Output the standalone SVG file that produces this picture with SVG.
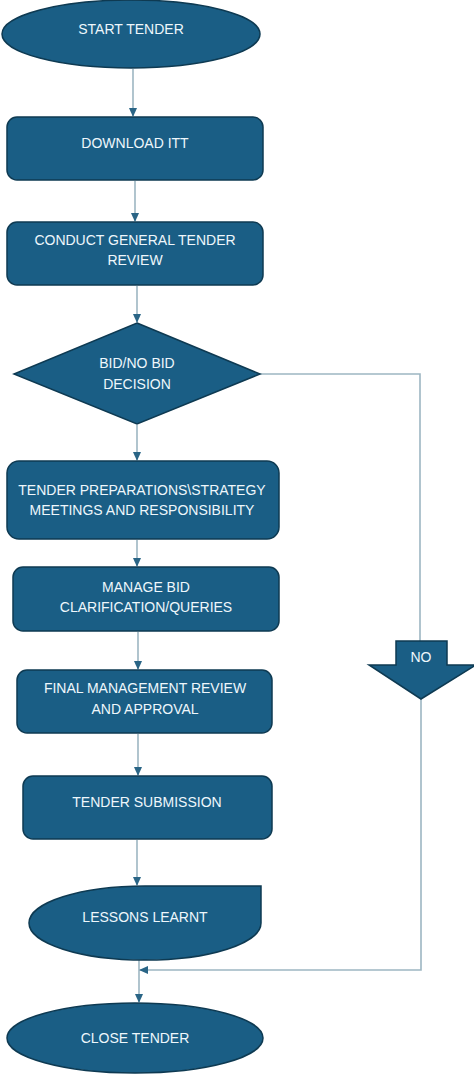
<svg xmlns="http://www.w3.org/2000/svg" width="474" height="1074" viewBox="0 0 474 1074">
<defs>
<style>
.n{fill:#1a5e85;stroke:#0e3a52;stroke-width:1.5}
.t{font-family:"Liberation Sans",Arial,sans-serif;font-size:14px;fill:#eef7fc;text-anchor:middle}
.c{fill:none;stroke:#9db6c2;stroke-width:1.6}
</style>
<marker id="ah" markerWidth="10" markerHeight="10" refX="8" refY="4" orient="auto" markerUnits="userSpaceOnUse">
<path d="M0,0 L9,4 L0,8 Z" fill="#2a6586"/>
</marker>
</defs>
<rect width="474" height="1074" fill="#ffffff"/>
<g id="connectors">
<path class="c" d="M133,69 V116" marker-end="url(#ah)"/>
<path class="c" d="M135,181 V221" marker-end="url(#ah)"/>
<path class="c" d="M137,286 V322" marker-end="url(#ah)"/>
<path class="c" d="M137,425 V460" marker-end="url(#ah)"/>
<path class="c" d="M137,540 V566" marker-end="url(#ah)"/>
<path class="c" d="M138,632 V669" marker-end="url(#ah)"/>
<path class="c" d="M138,734 V775" marker-end="url(#ah)"/>
<path class="c" d="M137,840 V885" marker-end="url(#ah)"/>
<path class="c" d="M139,960 V1002" marker-end="url(#ah)"/>
<path class="c" d="M260,374 H420 V641"/>
<path class="c" d="M421,699 V970 H140" marker-end="url(#ah)"/>
</g>
<g id="start">
<ellipse class="n" cx="131" cy="34" rx="129" ry="34"/>
<text class="t" x="131" y="34">START TENDER</text>
</g>
<g id="download">
<rect class="n" x="7" y="117" width="256" height="63" rx="10"/>
<text class="t" x="135" y="148">DOWNLOAD ITT</text>
</g>
<g id="review">
<rect class="n" x="7" y="222" width="256" height="63" rx="10"/>
<text class="t" x="135" y="245">CONDUCT GENERAL TENDER</text>
<text class="t" x="135" y="265">REVIEW</text>
</g>
<g id="decision">
<polygon class="n" points="137,323 260,374 137,424 14,374"/>
<text class="t" x="137" y="368">BID/NO BID</text>
<text class="t" x="137" y="389">DECISION</text>
</g>
<g id="prep">
<rect class="n" x="7" y="461" width="272" height="78" rx="12"/>
<text class="t" x="142" y="495">TENDER PREPARATIONS\STRATEGY</text>
<text class="t" x="142" y="515">MEETINGS AND RESPONSIBILITY</text>
</g>
<g id="manage">
<rect class="n" x="13" y="567" width="266" height="64" rx="10"/>
<text class="t" x="146" y="592">MANAGE BID</text>
<text class="t" x="146" y="612">CLARIFICATION/QUERIES</text>
</g>
<g id="final">
<rect class="n" x="17" y="670" width="255" height="63" rx="10"/>
<text class="t" x="145" y="693">FINAL MANAGEMENT REVIEW</text>
<text class="t" x="145" y="714">AND APPROVAL</text>
</g>
<g id="submission">
<rect class="n" x="23" y="776" width="249" height="63" rx="10"/>
<text class="t" x="147" y="807">TENDER SUBMISSION</text>
</g>
<g id="no">
<polygon class="n" points="396,641 447,641 447,665 476,665 421,699 369,665 396,665"/>
<text class="t" x="421" y="662">NO</text>
</g>
<g id="lessons">
<path class="n" d="M145,886 L261,886 L261,923 A116,37 0 0 1 145,960 A116,37 0 0 1 29,923 A116,37 0 0 1 145,886 Z"/>
<text class="t" x="145" y="922">LESSONS LEARNT</text>
</g>
<g id="close">
<ellipse class="n" cx="135" cy="1038" rx="128" ry="35"/>
<text class="t" x="135" y="1043">CLOSE TENDER</text>
</g>
</svg>
